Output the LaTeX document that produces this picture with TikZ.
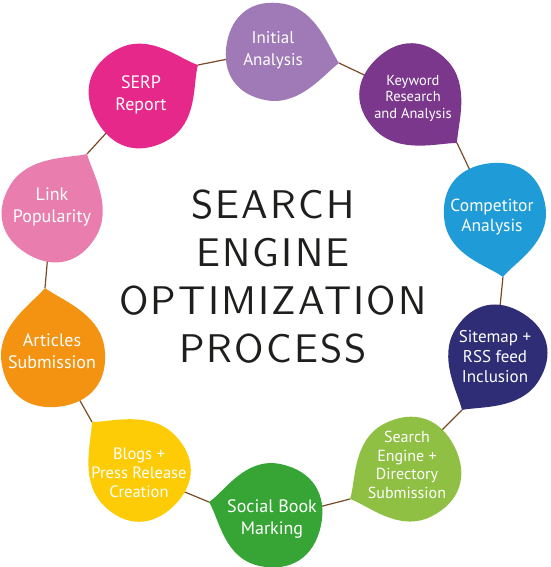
\documentclass[tikz,border=0pt]{standalone}
\usepackage{fontspec}
\newfontfamily\leaffont{PT Sans}
\newfontfamily\titlefont{lmsans10-regular}[Extension=.otf, LetterSpace=5.5]
\definecolor{initialc}{HTML}{9F7AB6}
\definecolor{keywordc}{HTML}{7A378C}
\definecolor{competitorc}{HTML}{1F9BD7}
\definecolor{sitemapc}{HTML}{2E2D75}
\definecolor{searchc}{HTML}{8FC043}
\definecolor{socialc}{HTML}{36A535}
\definecolor{blogsc}{HTML}{FDCC07}
\definecolor{articlesc}{HTML}{F39311}
\definecolor{linkc}{HTML}{E87DAE}
\definecolor{serpc}{HTML}{E6288A}
\definecolor{brownline}{HTML}{7A4A25}
\definecolor{titlec}{HTML}{1E1E1C}
\pgfdeclarelayer{links}
\pgfdeclarelayer{leaves}
\pgfsetlayers{links,leaves,main}
\tikzset{
LEAF/.style={draw=none, fill=#1},
LEAFTEXT/.style={text=white, align=center, inner sep=0pt, font=\leaffont\fontsize{17}{22}\selectfont},
LINK/.style={draw=brownline, line width=1.2pt},
TITLE/.style={text=titlec, align=center, inner sep=0pt, font=\titlefont\fontsize{40}{48}\selectfont},
}
% leaf: name, colour, centre, angle of the tip, radius, tip distance
\newcommand{\leaf}[6]{%
  \begin{scope}[shift={#3}, rotate=#4]
    \path[LEAF=#2] (#6,0) .. controls ({#6-0.25*#5},{0.25*#5}) and ({0.7*#5},#5) .. (0,#5)
      .. controls ({-0.62*#5},#5) and (-#5,{0.62*#5}) .. (-#5,0)
      .. controls (-#5,{-0.62*#5}) and ({-0.62*#5},-#5) .. (0,-#5)
      .. controls ({0.7*#5},-#5) and ({#6-0.25*#5},{-0.25*#5}) .. (#6,0) -- cycle;
    \coordinate (#1-tip) at (#6,0);
  \end{scope}}

\begin{document}
\begin{tikzpicture}[x=1pt, y=-1pt]
	\useasboundingbox (0,0) rectangle (550,567);
	% texts
	\node[TITLE] (title) at (273,277) {SEARCH\\ENGINE\\OPTIMIZATION\\PROCESS};
	\node[LEAFTEXT] (initial) at (273,50) {Initial\\Analysis};
	\node[LEAFTEXT, font=\leaffont\fontsize{14.5}{16.5}\selectfont] (keyword) at (413,98) {Keyword\\Research\\and Analysis};
	\node[LEAFTEXT, font=\leaffont\fontsize{17.5}{20}\selectfont] (competitor) at (492,217) {Competitor\\Analysis};
	\node[LEAFTEXT, font=\leaffont\fontsize{17}{20}\selectfont] (sitemap) at (495,357) {Sitemap +\\RSS feed\\Inclusion};
	\node[LEAFTEXT, font=\leaffont\fontsize{16}{18.5}\selectfont] (search) at (407,465) {Search\\Engine +\\Directory\\Submission};
	\node[LEAFTEXT, font=\leaffont\fontsize{18}{22}\selectfont] (social) at (272,519) {Social Book\\Marking};
	\node[LEAFTEXT, font=\leaffont\fontsize{16.5}{19}\selectfont] (blogs) at (139,473) {Blogs +\\Press Release\\Creation};
	\node[LEAFTEXT, font=\leaffont\fontsize{18}{22}\selectfont] (articles) at (52,351) {Articles\\Submission};
	\node[LEAFTEXT, font=\leaffont\fontsize{18}{22}\selectfont] (link) at (52,207) {Link\\Popularity};
	\node[LEAFTEXT, font=\leaffont\fontsize{18}{22}\selectfont] (serp) at (141,95) {SERP\\Report};
	% leaves
	\begin{pgfonlayer}{leaves}
	\leaf{initial}{initialc}{(275,52)}{-9.8}{49}{65}
	\leaf{keyword}{keywordc}{(411,95)}{-46.2}{50}{66.5}
	\leaf{competitor}{competitorc}{(495,214)}{-82.8}{51}{63.5}
	\leaf{sitemap}{sitemapc}{(497,355)}{-122.5}{49}{65.2}
	\leaf{search}{searchc}{(408,470)}{-153.4}{52}{64.8}
	\leaf{social}{socialc}{(270,515)}{168}{52}{62.4}
	\leaf{blogs}{blogsc}{(139,470)}{134.4}{50}{67.2}
	\leaf{articles}{articlesc}{(53,355)}{96.8}{52}{67.5}
	\leaf{link}{linkc}{(53,211)}{59.2}{50}{66.4}
	\leaf{serp}{serpc}{(142,95)}{28.2}{52}{63.5}
	\end{pgfonlayer}
	% connectors
	\begin{pgfonlayer}{links}
	\foreach \a/\b in {serp/initial, initial/keyword, keyword/competitor, competitor/sitemap, sitemap/search, search/social, social/blogs, blogs/articles, articles/link, link/serp}
		\path[LINK] (\a-tip) -- (\b.center);
	\end{pgfonlayer}
\end{tikzpicture}
\end{document}
